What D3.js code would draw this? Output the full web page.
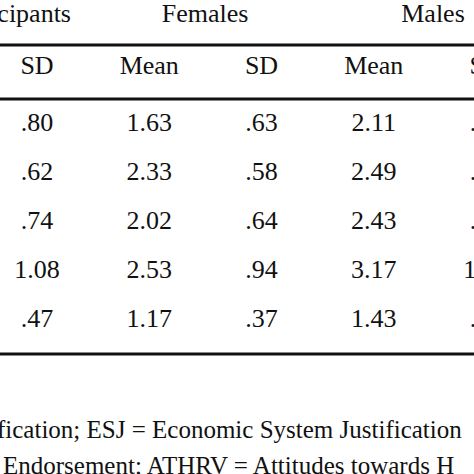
<!DOCTYPE html>
<html><head><meta charset="utf-8">
<script src="https://cdn.jsdelivr.net/npm/d3@7"></script>
<style>body{margin:0;background:#fff}svg{display:block}</style>
</head><body><svg id="c" width="474" height="474"></svg>
<script>
const groups = ["Participants","Females","Males"];
const subHeaders = ["SD","Mean","SD","Mean","SD"];
const allSD = [".80",".62",".74","1.08",".47"];
const femMean = ["1.63","2.33","2.02","2.53","1.17"];
const femSD = [".63",".58",".64",".94",".37"];
const maleMean = ["2.11","2.49","2.43","3.17","1.43"];
const maleSD = [".71",".66",".73","1.12",".52"];
const notes = ["fication; ESJ = Economic System Justification","Endorsement; ATHRV = Attitudes towards H"];

const FONT = "'Liberation Serif', 'Times New Roman', Tinos, 'DejaVu Serif', serif";
const svg = d3.select("#c").attr("font-family", FONT).attr("fill","#111");
const cols = [allSD, femMean, femSD, maleMean, maleSD];
const x = d3.scalePoint().domain(d3.range(5)).range([37, 486]);
const y = d3.scalePoint().domain(d3.range(5)).range([122, 318]);

svg.append("text").attr("x",71).attr("y",22).attr("text-anchor","end").attr("font-size",26).text("Participants");
svg.append("text").attr("x",205).attr("y",22).attr("text-anchor","middle").attr("font-size",26).text(groups[1]);
svg.append("text").attr("x",433).attr("y",22).attr("text-anchor","middle").attr("font-size",26).text(groups[2]);

[45,99,354].forEach(v=>svg.append("rect").attr("x",0).attr("y",v-1.5).attr("width",474).attr("height",3).attr("fill","#111"));

svg.selectAll(".sh").data(subHeaders).join("text")
 .attr("x",(d,i)=>x(i)).attr("y",74).attr("text-anchor","middle").attr("font-size",26).text(d=>d);

cols.forEach((col,ci)=>{
  svg.selectAll(".c"+ci).data(col).join("text")
   .attr("x",x(ci)).attr("y",(d,i)=>y(i)+9).attr("text-anchor","middle").attr("font-size",26).text(d=>d);
});

svg.selectAll(".n").data(notes).join("text")
 .attr("x",(d,i)=>i?3:-3).attr("y",(d,i)=>i?474:438).attr("font-size",25).text(d=>d);
</script></body></html>
